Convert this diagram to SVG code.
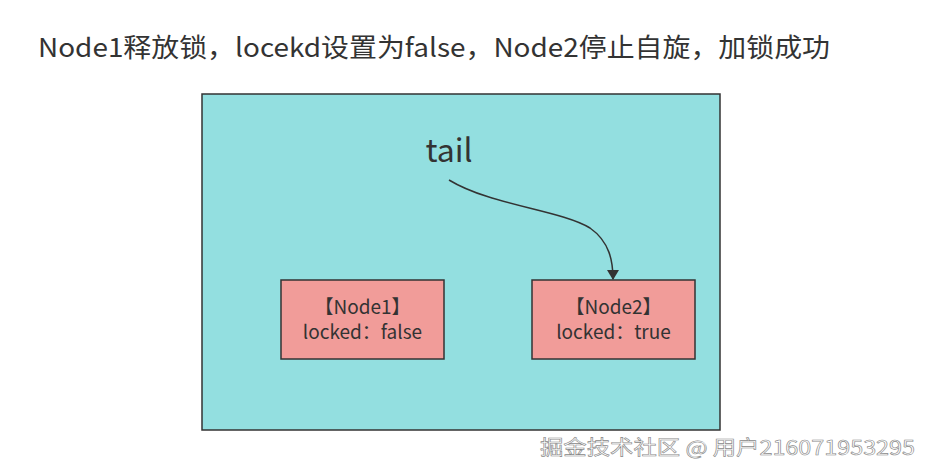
<svg xmlns="http://www.w3.org/2000/svg" width="931" height="476" viewBox="0 0 931 476">
<style>
text{font-family:"Noto Sans CJK SC","Microsoft YaHei",sans-serif;}
.node{fill:#f19c99;stroke:#333;stroke-width:1.5}
.nt{font-size:19px;fill:#333;text-anchor:middle}
</style>
<defs><marker id="ah" markerWidth="10" markerHeight="12" refX="9" refY="6" orient="auto" markerUnits="userSpaceOnUse"><path d="M0,0 L10,6 L0,12 z" fill="#333"/></marker></defs>
<rect width="931" height="476" fill="#fff"/>
<text x="38" y="57" font-size="26" fill="#333" textLength="792" lengthAdjust="spacingAndGlyphs">Node1释放锁，locekd设置为false，Node2停止自旋，加锁成功</text>
<g id="frame"><rect x="202" y="94" width="518" height="336" fill="#93dfe0" stroke="#333" stroke-width="1.5"/></g>
<g id="tail"><text x="449" y="162" font-size="32" fill="#333" text-anchor="middle">tail</text></g>
<g id="node1"><rect class="node" x="281" y="280" width="163" height="79"/><text class="nt" x="362.5" y="314">【Node1】</text><text class="nt" x="362.5" y="339">locked：false</text></g>
<g id="node2"><rect class="node" x="532" y="280" width="163" height="79"/><text class="nt" x="613.5" y="314">【Node2】</text><text class="nt" x="613.5" y="339">locked：true</text></g>
<g id="connectors"><path d="M449,180 C490,205 560,210 590,228 C610,242 613,262 613,279" fill="none" stroke="#333" stroke-width="1.5" marker-end="url(#ah)"/></g>
<text x="540" y="455" font-size="20" fill="#fff" stroke="#888" stroke-width="0.6" textLength="375" lengthAdjust="spacingAndGlyphs">掘金技术社区 @ 用户216071953295</text>
</svg>
